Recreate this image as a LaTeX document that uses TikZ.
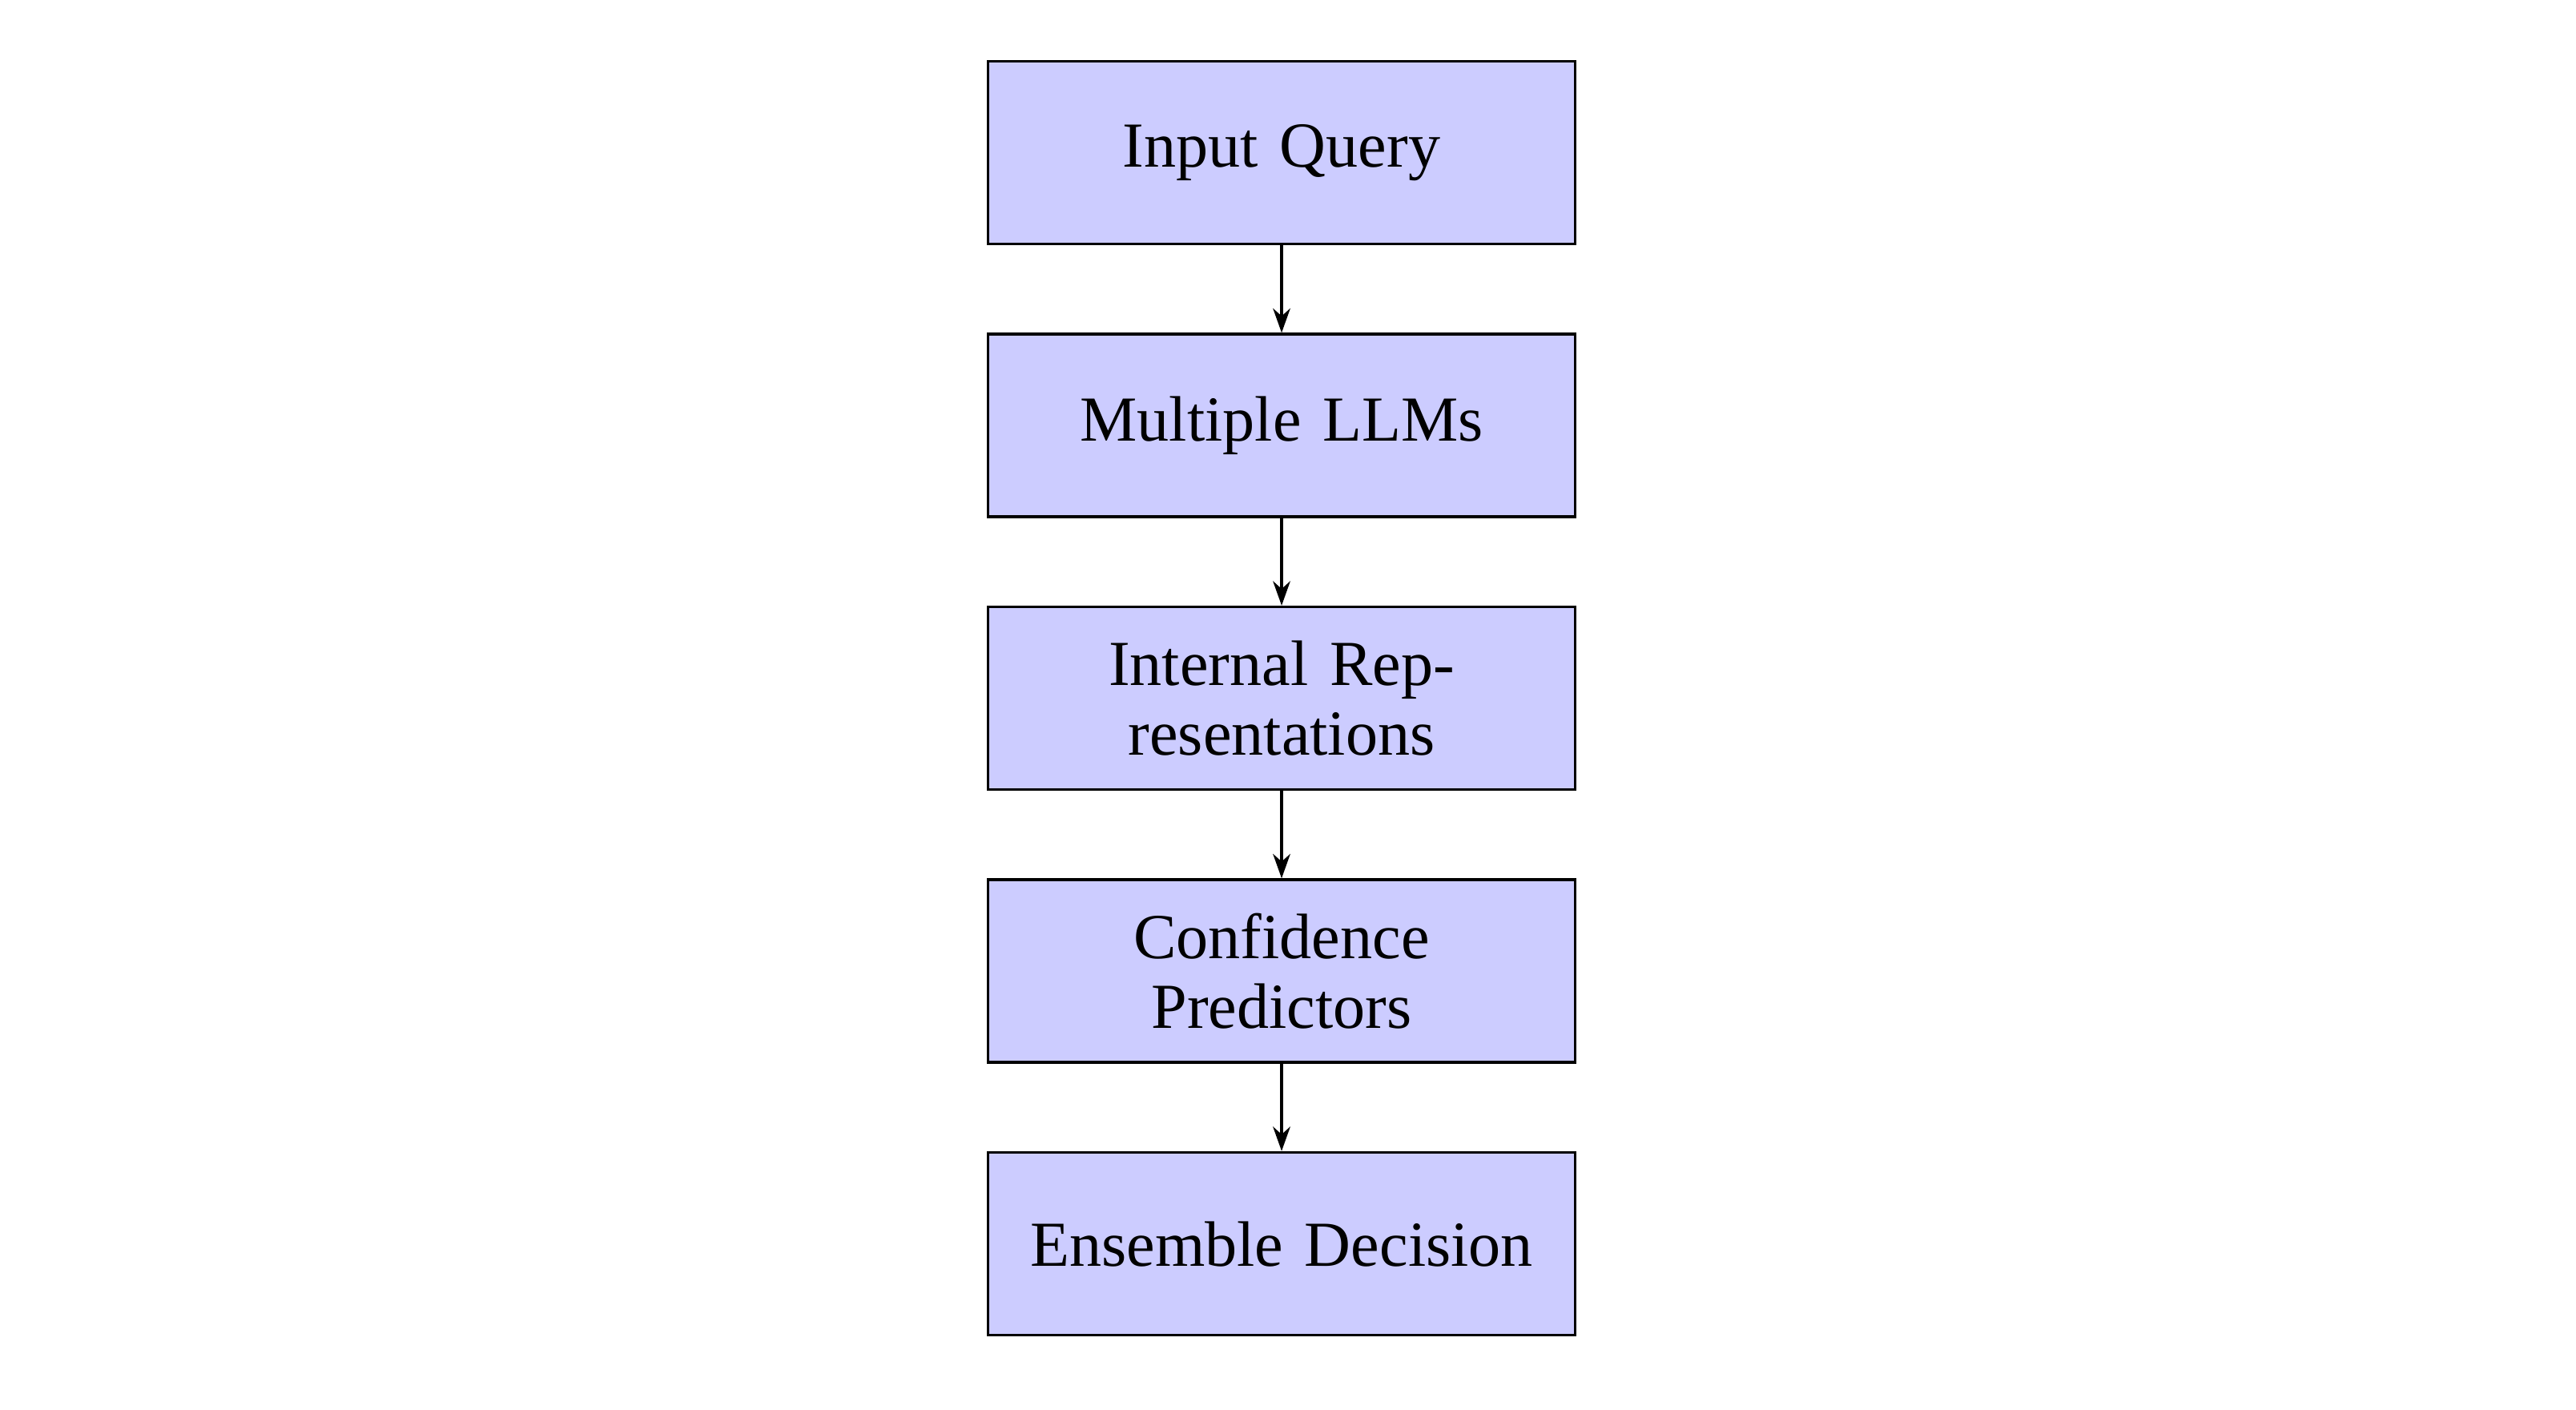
\documentclass[tikz,border=0pt]{standalone}
\usepackage{fontspec}
\setmainfont{Liberation Serif}
\usetikzlibrary{arrows.meta}
\begin{document}
\begin{tikzpicture}[
  stagebox/.style={draw=black, fill=blue!20, text width=3cm, inner xsep=3pt,
    minimum width=91.45pt, minimum height=1cm, align=center, line width=0.45pt,
    font=\fontsize{10pt}{10.9pt}\selectfont},
  flowarrow/.style={-{Stealth[length=3.8pt,width=2.7pt,inset=1.2pt]}, line width=0.4pt}
]
\useasboundingbox (0,0) rectangle (401.35pt,219.64pt);
\node[stagebox] (q)    at (199.68pt,195.84pt) {Input Query};
\node[stagebox] (llm)  at (199.68pt,153.35pt) {Multiple LLMs};
\node[stagebox] (rep)  at (199.68pt,110.86pt) {Internal Representations};
\node[stagebox] (conf) at (199.68pt,68.37pt)  {Confidence Predictors};
\node[stagebox] (ens)  at (199.68pt,25.88pt)  {Ensemble Decision};
\draw[flowarrow] (q) -- (llm);
\draw[flowarrow] (llm) -- (rep);
\draw[flowarrow] (rep) -- (conf);
\draw[flowarrow] (conf) -- (ens);
\end{tikzpicture}
\end{document}
